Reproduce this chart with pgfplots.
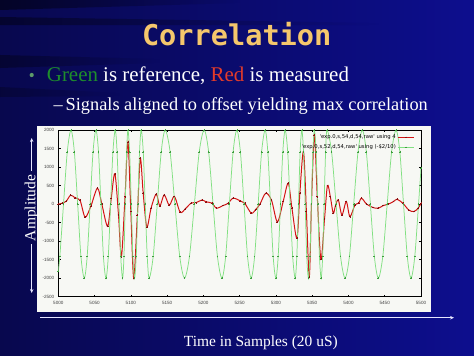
\documentclass[border=0pt]{standalone}
\usepackage{pgfplots}
\pgfplotsset{compat=1.18}
\usetikzlibrary{fadings,arrows.meta}
\usepackage{fontspec}
\setmainfont{Liberation Serif}
\newfontfamily\titlefont{DejaVu Sans Mono}
\newfontfamily\tickfont{Liberation Sans}
\newfontfamily\legfont{DejaVu Sans}
\definecolor{bgL}{HTML}{08084E}
\definecolor{bgR}{HTML}{0D0E8E}
\definecolor{titlecol}{HTML}{F5C76C}
\definecolor{txtgreen}{HTML}{1E8E2C}
\definecolor{txtred}{HTML}{E23B2A}
\definecolor{bulletcol}{HTML}{5E9A6A}
\definecolor{panel}{HTML}{F7F8F4}
\definecolor{redline}{HTML}{D41515}
\definecolor{redmark}{HTML}{8A1010}
\definecolor{greenline}{HTML}{82E082}
\definecolor{greenmark}{HTML}{3E9E3E}
\begin{document}
\begin{tikzpicture}[x=1bp,y=1bp]
\useasboundingbox (0,0) rectangle (474,355);
\shade[left color=bgL, right color=bgR] (0,0) rectangle (474,355);
% dark streaks at upper left
\fill[black,opacity=0.5,path fading=east] (0,355) -- (240,355) -- (240,352) -- (0,345) -- cycle;
\fill[black,opacity=0.4,path fading=east] (0,338) -- (380,332) -- (380,330) -- (0,330) -- cycle;
\fill[black,opacity=0.35,path fading=east] (0,300) -- (160,296) -- (160,292) -- (0,287) -- cycle;
\fill[black,opacity=0.25,path fading=east] (0,268) -- (120,262) -- (120,259) -- (0,258) -- cycle;
% title and bullets
\node[anchor=base,text=titlecol,font=\titlefont\bfseries\fontsize{28.7}{30}\selectfont,inner sep=0] at (236.7,310) {Correlation};
\fill[bulletcol] (31.7,280) circle (2.1);
\node[anchor=base west,inner sep=0,text=white,font=\fontsize{21}{23}\selectfont] at (46.7,273.3)
  {\textcolor{txtgreen}{Green} is reference, \textcolor{txtred}{Red} is measured};
\node[anchor=base west,inner sep=0,text=white,font=\fontsize{18.4}{20}\selectfont] at (53.3,245)
  {–\hspace{3bp}Signals aligned to offset yielding max correlation};
% chart panel
\fill[panel] (36.7,43.3) rectangle (430.7,229);
\begin{axis}[
  at={(58.3bp,58.3bp)}, anchor=south west,
  scale only axis, width=362.7bp, height=166.7bp,
  xmin=5000, xmax=5500, ymin=-2500, ymax=2000,
  xtick={5000,5050,...,5500}, ytick={-2500,-2000,...,2000},
  tick align=inside, major tick length=2.2bp,
  xtick pos=both, ytick pos=both,
  axis line style={black,line width=0.7pt},
  tick style={black,line width=0.5pt},
  /pgf/number format/assume math mode=true,
  /pgf/number format/set thousands separator={},
  ticklabel style={font=\tickfont\fontsize{4.6}{5}\selectfont,text=black!75},
  xticklabel style={yshift=-1.2bp},
  yticklabel style={xshift=-0.5bp},
  axis background/.style={fill=panel},
  legend style={at={(1,1)},anchor=north east,xshift=-5bp,yshift=-1.5bp,draw=none,fill=none,
    font=\legfont\fontsize{5.3}{6}\selectfont,row sep=0.6bp,inner sep=1bp},
  legend cell align=right, legend plot pos=right,
  legend image code/.code={\draw[#1,mark repeat=2,mark phase=2] plot coordinates {(0bp,0bp) (8bp,0bp) (16bp,0bp)};},
]
\addplot[redline,line width=1pt,smooth,mark=+,mark size=0.9pt,mark options={redmark,line width=0.4pt}] coordinates {
(5000,0) (5005,20) (5011,80) (5017,240) (5023,170) (5030,100) (5037,-355) (5045,-50)
(5054,430) (5060,0) (5068,-600) (5073,150) (5078,820) (5083,-300) (5087,-1420) (5092,200)
(5096,1680) (5100,-200) (5104,-2000) (5109,-300) (5113,1240) (5117,300) (5122,-615) (5128,-100)
(5135,270) (5140,-50) (5146,250) (5153,-30) (5160,205) (5168,-220) (5175,-130) (5183,25)
(5190,40) (5198,110) (5204,60) (5212,25) (5218,-110) (5227,-40) (5234,20) (5241,160)
(5251,86) (5257,23) (5266,-247) (5272,-150) (5278,0) (5286,294) (5294,100) (5302,-480)
(5310,70) (5317,565) (5322,-100) (5329,-923) (5333,300) (5338,1420) (5342,-200) (5346,-1960)
(5349,0) (5353,1870) (5357,200) (5362,-1490) (5367,-400) (5371,500) (5375,200) (5379,-248)
(5382,-50) (5386,113) (5391,-293) (5397,68) (5402,-338) (5409,-22) (5414,23) (5418,158)
(5425,0) (5434,-94) (5441,-112) (5448,-40) (5455,0) (5462,68) (5467,130) (5475,23)
(5483,-158) (5490,-202) (5496,-112) (5500,23)
};
\addlegendentry{'exp.0,s,54,d,54,raw' using 4}
\addplot[greenline,line width=0.75pt,smooth,mark=+,mark size=0.9pt,mark options={greenmark,line width=0.35pt}] coordinates {
(5000,-1800) (5002.1,-1414) (5007.2,0) (5012.4,1414) (5017.5,2000)
(5022.1,1414) (5026.7,0) (5031.2,-1414) (5035.8,-2000)
(5039.8,-1414) (5043.9,0) (5047.9,1414) (5051.9,2000)
(5055.4,1414) (5058.8,0) (5062.2,-1414) (5065.7,-2000)
(5068.9,-1414) (5072.1,0) (5075.3,1414) (5078.5,2000)
(5081.0,1414) (5083.6,0) (5086.1,-1414) (5088.6,-2000)
(5090.5,-1414) (5092.3,0) (5094.2,1414) (5096.0,2000)
(5098.3,1414) (5100.6,0) (5102.8,-1414) (5105.1,-2000)
(5107.4,-1414) (5109.7,0) (5112.0,1414) (5114.3,2000)
(5117.1,1414) (5119.8,0) (5122.6,-1414) (5125.3,-2000)
(5130.8,-1414) (5136.4,0) (5141.9,1414) (5147.4,2000)
(5154.1,1414) (5160.7,0) (5167.4,-1414) (5174.0,-2000)
(5180.8,-1414) (5187.6,0) (5194.3,1414) (5201.1,2000)
(5207.2,1414) (5213.3,0) (5219.4,-1414) (5225.5,-2000)
(5230.7,-1414) (5235.8,0) (5241.0,1414) (5246.1,2000)
(5251.0,1414) (5256.0,0) (5260.9,-1414) (5265.8,-2000)
(5270.6,-1414) (5275.5,0) (5280.3,1414) (5285.1,2000)
(5288.8,1414) (5292.5,0) (5296.2,-1414) (5299.9,-2000)
(5303.1,-1414) (5306.3,0) (5309.5,1414) (5312.7,2000)
(5316.2,1414) (5319.6,0) (5323.1,-1414) (5326.5,-2000)
(5328.8,-1414) (5331.1,0) (5333.4,1414) (5335.7,2000)
(5338.0,1414) (5340.3,0) (5342.5,-1414) (5344.8,-2000)
(5346.9,-1414) (5348.9,0) (5351.0,1414) (5353.0,2000)
(5355.3,1414) (5357.7,0) (5360.0,-1414) (5362.3,-2000)
(5364.4,-1414) (5366.4,0) (5368.5,1414) (5370.5,2000)
(5376.7,1414) (5382.9,0) (5389.1,-1414) (5395.3,-2000)
(5401.3,-1414) (5407.2,0) (5413.2,1414) (5419.1,2000)
(5424.6,1414) (5430.2,0) (5435.7,-1414) (5441.2,-2000)
(5447.3,-1414) (5453.4,0) (5459.5,1414) (5465.6,2000)
(5470.8,1414) (5475.9,0) (5481.1,-1414) (5486.2,-2000)
(5491.4,-1414) (5496.6,0) (5500,970)
};
\addlegendentry{'exp.0,s,52,d,54,raw' using (-\$2/10)}
\end{axis}
% axis titles and arrows
\draw[white!90!blue,line width=1.1pt,-{Stealth[length=4bp,width=3.5bp]}] (40,37.3) -- (454,37.3);
\node[anchor=base,inner sep=0,text=white,font=\fontsize{15.5}{17}\selectfont] at (260.8,8.3) {Time in Samples (20 uS)};
\draw[white!90!blue,line width=1.1pt,-{Stealth[length=4bp,width=3.5bp]}] (31.7,184) -- (31.7,217);
\draw[white!90!blue,line width=1.1pt,-{Stealth[length=4bp,width=3.5bp]}] (31.7,111) -- (31.7,62);
\node[rotate=90,inner sep=0,text=white,font=\fontsize{15.5}{17}\selectfont] at (31.7,147) {Amplitude};
\end{tikzpicture}
\end{document}
